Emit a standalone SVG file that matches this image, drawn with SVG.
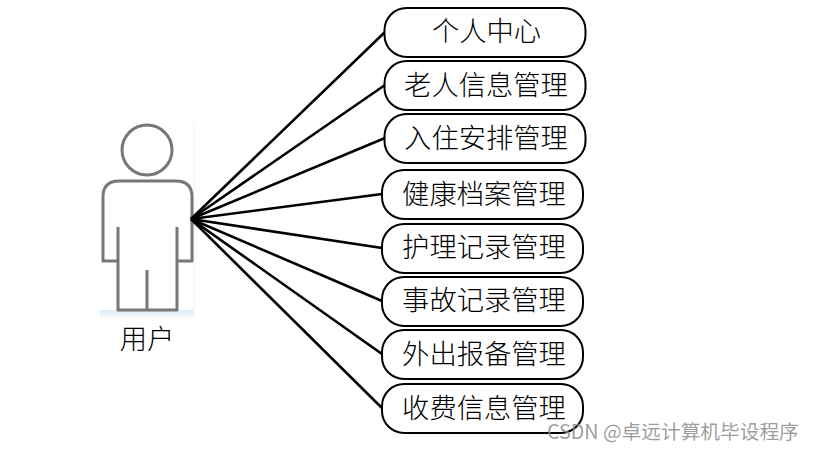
<svg xmlns="http://www.w3.org/2000/svg" width="813" height="451" viewBox="0 0 813 451">
<defs>
<linearGradient id="shadow" x1="0" y1="0" x2="0" y2="1"><stop offset="0" stop-color="#dbe8f8"/><stop offset="1" stop-color="#ffffff"/></linearGradient>
<linearGradient id="side" x1="0" y1="0" x2="1" y2="0"><stop offset="0" stop-color="#f0f5fc"/><stop offset="1" stop-color="#ffffff"/></linearGradient>
<filter id="soft" x="-5%" y="-5%" width="110%" height="110%"><feGaussianBlur stdDeviation="0.6"/></filter>
</defs>
<style>
.box{fill:#fff;stroke:#000;stroke-width:2}
.t{font-family:"Noto Sans CJK SC","Noto Sans CJK JP",sans-serif;font-size:27.300px;font-weight:300;fill:#000;text-anchor:middle}
.c{stroke:#000;stroke-width:2.600;fill:none;stroke-linecap:butt}
.p{stroke:#777;stroke-width:3;fill:none;stroke-linejoin:round}
</style>
<rect width="813" height="451" fill="#fff"/>
<g id="user">
<rect x="100" y="310" width="94" height="9" fill="url(#shadow)"/>
<rect x="193" y="122" width="3" height="190" fill="url(#side)"/>
<g filter="url(#soft)">
<circle class="p" cx="147" cy="150" r="25"/>
<path class="p" d="M118 261H103V197Q103 181 119 181H176Q192 181 192 197V261H177"/>
<path class="p" d="M118 227V310H177V227M147 270V310"/>
</g>
<text class="t" x="147" y="349">用户</text>
</g>
<g id="connectors">
<line class="c" x1="191" y1="219" x2="385" y2="32"/>
<line class="c" x1="191" y1="219" x2="385" y2="85"/>
<line class="c" x1="191" y1="219" x2="385" y2="138"/>
<line class="c" x1="191" y1="219" x2="382" y2="194"/>
<line class="c" x1="191" y1="219" x2="382" y2="248"/>
<line class="c" x1="191" y1="219" x2="382" y2="301"/>
<line class="c" x1="191" y1="219" x2="382" y2="354"/>
<line class="c" x1="191" y1="219" x2="382" y2="408"/>
</g>
<g id="n1"><rect class="box" x="384.500" y="8" width="201" height="49" rx="22"/><text class="t" x="486.500" y="41">个人中心</text></g>
<g id="n2"><rect class="box" x="384.500" y="61" width="201" height="49" rx="22"/><text class="t" x="486" y="95">老人信息管理</text></g>
<g id="n3"><rect class="box" x="384.500" y="114" width="201" height="49" rx="22"/><text class="t" x="486" y="148">入住安排管理</text></g>
<g id="n4"><rect class="box" x="382" y="170" width="201" height="49" rx="22"/><text class="t" x="484" y="204">健康档案管理</text></g>
<g id="n5"><rect class="box" x="382" y="224" width="201" height="49" rx="22"/><text class="t" x="484" y="257">护理记录管理</text></g>
<g id="n6"><rect class="box" x="382" y="277" width="201" height="49" rx="22"/><text class="t" x="484" y="310">事故记录管理</text></g>
<g id="n7"><rect class="box" x="382" y="330" width="201" height="49" rx="22"/><text class="t" x="484" y="364">外出报备管理</text></g>
<g id="n8"><rect class="box" x="382" y="384" width="201" height="49" rx="22"/><text class="t" x="484" y="418">收费信息管理</text></g>
<text x="547" y="439" style="font-family:'Noto Sans CJK SC',sans-serif;font-size:19.700px;fill:#8c8c8c;fill-opacity:.85">CSDN @卓远计算机毕设程序</text>
</svg>
